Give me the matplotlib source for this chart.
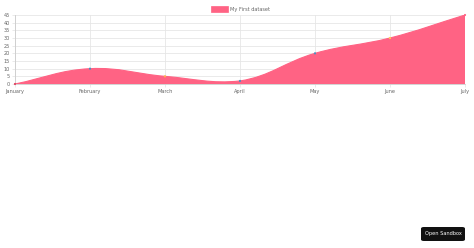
import numpy as np
import matplotlib.pyplot as plt
from matplotlib.path import Path
from matplotlib.patches import PathPatch, FancyBboxPatch, Rectangle

# --- data ---
months = ['January', 'February', 'March', 'April', 'May', 'June', 'July']
values = [0, 10, 5, 2, 20, 30, 45]
point_colors = ['#e0405f', '#4b8fc0', '#ffb347', '#4b8fc0', '#4b8fc0', '#ffcd56', '#ff6384']
dataset_label = 'My First dataset'
y_ticks = list(range(0, 50, 5))

fill_color = '#ff6384'
text_color = '#666666'
grid_color = '#e6e6e6'

W, H = 474, 248
fig = plt.figure(figsize=(W / 100, H / 100), dpi=100)
# plot area in pixels: x 15..465, y 15..84 (from top)
left, right, top, bottom = 15, 465, 15, 84
ax = fig.add_axes([left / W, 1 - bottom / H, (right - left) / W, (bottom - top) / H])

x = np.arange(len(values), dtype=float)
y = np.array(values, dtype=float)
ymin, ymax = 0, 45
sx = (right - left) / (len(x) - 1)
sy = (bottom - top) / (ymax - ymin)


def spline_controls(x, y, t=0.4):
    # Chart.js style spline control points, computed in pixel space
    px, py = x * sx, y * sy
    n = len(px)
    ctrl = []
    for i in range(n):
        p = max(i - 1, 0)
        q = min(i + 1, n - 1)
        d01 = np.hypot(px[i] - px[p], py[i] - py[p])
        d12 = np.hypot(px[q] - px[i], py[q] - py[i])
        tot = d01 + d12
        s01 = d01 / tot if tot else 0
        s12 = d12 / tot if tot else 0
        fa, fb = t * s01, t * s12
        prev_c = (px[i] - fa * (px[q] - px[p]), py[i] - fa * (py[q] - py[p]))
        next_c = (px[i] + fb * (px[q] - px[p]), py[i] + fb * (py[q] - py[p]))
        ctrl.append((prev_c, next_c))
    out = []
    for (a, b) in ctrl:
        pa = (a[0] / sx, min(max(a[1] / sy, ymin), ymax))
        pb = (b[0] / sx, min(max(b[1] / sy, ymin), ymax))
        out.append((pa, pb))
    return out


ctrl = spline_controls(x, y)
verts = [(x[0], y[0])]
codes = [Path.MOVETO]
for i in range(len(x) - 1):
    verts += [ctrl[i][1], ctrl[i + 1][0], (x[i + 1], y[i + 1])]
    codes += [Path.CURVE4] * 3
verts += [(x[-1], 0), (x[0], 0), (x[0], y[0])]
codes += [Path.LINETO, Path.LINETO, Path.CLOSEPOLY]
ax.add_patch(PathPatch(Path(verts, codes), facecolor=fill_color, edgecolor=fill_color,
                       lw=0.8, zorder=2))
ax.scatter(x, y, s=2.5, c=point_colors, zorder=3, linewidths=0, clip_on=False)

ax.set_xlim(x[0], x[-1])
ax.set_ylim(ymin, ymax)
ax.set_xticks(x)
ax.set_xticklabels(months)
ax.set_yticks(y_ticks)
ax.grid(True, color=grid_color, lw=0.6, zorder=0)
ax.set_axisbelow(True)
for s in ['top', 'right']:
    ax.spines[s].set_visible(False)
for s in ['left', 'bottom']:
    ax.spines[s].set_color('#cccccc')
    ax.spines[s].set_linewidth(0.6)
ax.tick_params(axis='both', colors=grid_color, labelcolor=text_color, labelsize=3.6,
               length=2, width=0.6, pad=1.5)

# legend
fig.patches.append(Rectangle((211 / W, 1 - 12 / H), 17 / W, 6 / H, transform=fig.transFigure,
                             facecolor=fill_color, edgecolor=fill_color, lw=0.5))
fig.text(230 / W, 1 - 9 / H, dataset_label, fontsize=3.6, color=text_color, va='center', ha='left')

# "Open Sandbox" button
fig.patches.append(FancyBboxPatch((421 / W, 1 - 241 / H), 44 / W, 14 / H,
                                  boxstyle='round,pad=0,rounding_size=0.006',
                                  transform=fig.transFigure, facecolor='#111111', edgecolor='none'))
fig.text(443 / W, 1 - 234 / H, 'Open Sandbox', fontsize=3.6, color='white', ha='center', va='center')

fig.savefig('out.png', dpi=100)
